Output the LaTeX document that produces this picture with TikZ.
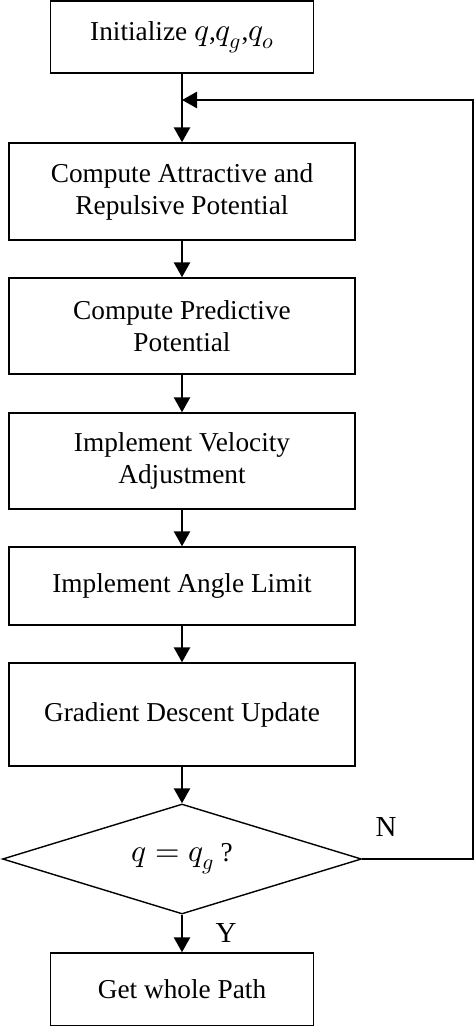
\documentclass[tikz,border=0pt]{standalone}
\usepackage{fontspec}
\usepackage{unicode-math}
\setmainfont{Liberation Serif}
\setmathfont{Latin Modern Math}[Scale=1.15]
\usetikzlibrary{arrows.meta,shapes.geometric}
\begin{document}
\begin{tikzpicture}[x=1pt,y=-1pt,
  box/.style={draw,line width=1.4pt,inner sep=0pt,align=center,font=\fontsize{27.3}{32}\selectfont},
  wbox/.style={box,minimum width=346pt},
  nbox/.style={box,minimum width=263pt},
  flow/.style={line width=2.6pt,-{Triangle[length=15pt,width=16pt]}},
  lbl/.style={font=\fontsize{29}{32}\selectfont,inner sep=0pt}]
\useasboundingbox (0,0) rectangle (474,1026);
\node[nbox,minimum height=72pt] (init) at (182,37) {Initialize $q$,$q_g$,$q_o$};
\node[wbox,minimum height=97pt] (attr) at (182,191.5) {Compute Attractive and\\Repulsive Potential};
\node[wbox,minimum height=96pt] (pred) at (182,326) {Compute Predictive\\Potential};
\node[wbox,minimum height=96pt] (vel) at (182,461) {Implement Velocity\\Adjustment};
\node[wbox,minimum height=78pt] (ang) at (182,586) {Implement Angle Limit};
\node[wbox,minimum height=103pt] (grad) at (182,714.5) {Gradient Descent Update};
\node[draw,line width=1.4pt,diamond,inner sep=0pt,minimum width=359pt,minimum height=110pt,
  label={[font=\fontsize{27.3}{32}\selectfont]center:{$q=q_g$ ?}}] (dec) at (182,859) {};
\node[nbox,minimum height=73pt] (path) at (182,989.5) {Get whole Path};
\coordinate (join) at (182,100);
\coordinate (rt) at (473,859);
\coordinate (rb) at (473,100);
\draw[line width=2.6pt] (init.south) -- (join);
\draw[flow] (join) -- (attr.north);
\draw[flow] (attr.south) -- (pred.north);
\draw[flow] (pred.south) -- (vel.north);
\draw[flow] (vel.south) -- (ang.north);
\draw[flow] (ang.south) -- (grad.north);
\draw[flow] (grad.south) -- (dec.north);
\draw[flow] (dec.south) -- (path.north);
\draw[flow] (dec.east) -- (rt) -- (rb) -- (join);
\node[lbl] (nl) at (386,827) {N};
\node[lbl] (yl) at (226,933) {Y};
\end{tikzpicture}
\end{document}
